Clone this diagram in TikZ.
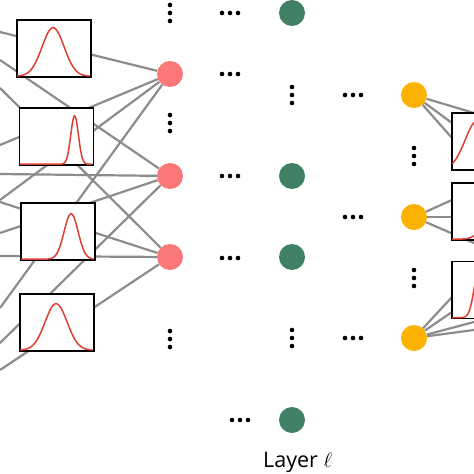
\documentclass[tikz,border=0pt]{standalone}
\usepackage{fontspec}
\setmainfont{Open Sans}
\definecolor{unitpink}{RGB}{250,120,120}
\definecolor{unitgreen}{RGB}{64,128,100}
\definecolor{unitorange}{RGB}{252,178,0}
\definecolor{edgegray}{RGB}{140,140,140}
\definecolor{curvered}{RGB}{222,62,52}
\begin{document}
\begin{tikzpicture}[x=1pt, y=-1pt]
\tikzstyle{unit}  = [circle, minimum size=26pt, inner sep=0pt, draw=none]
\tikzstyle{edge}  = [draw=edgegray, line width=2.2pt]
\tikzstyle{fbox}  = [rectangle, draw=black, fill=white, line width=1.8pt, minimum width=74pt, minimum height=57pt, inner sep=0pt]
\tikzstyle{curve} = [draw=curvered, line width=1.5pt, smooth]
\clip (0,0) rectangle (474,474);
% hidden units
\node[unit, fill=unitpink] at (170, 74) (h_0) {};
\node[unit, fill=unitpink] at (170, 176) (h_1) {};
\node[unit, fill=unitpink] at (170, 257) (h_2) {};
\node[unit, fill=unitgreen] at (292, 13) (g_0) {};
\node[unit, fill=unitgreen] at (292, 176) (g_1) {};
\node[unit, fill=unitgreen] at (292, 257) (g_2) {};
\node[unit, fill=unitgreen] at (292, 420) (g_3) {};
\node[unit, fill=unitorange] at (414, 95) (o_0) {};
\node[unit, fill=unitorange] at (414, 217) (o_1) {};
\node[unit, fill=unitorange] at (414, 338) (o_2) {};
% loose ends of the edges
\coordinate (in_0) at (0, 32);
\coordinate (in_1) at (0, 145);
\coordinate (in_2) at (0, 200);
\coordinate (in_3) at (0, 308);
\coordinate (in_4) at (0, 60);
\coordinate (in_5) at (0, 174);
\coordinate (in_6) at (0, 233);
\coordinate (in_7) at (0, 343);
\coordinate (in_8) at (0, 88);
\coordinate (in_9) at (0, 202);
\coordinate (in_10) at (0, 256);
\coordinate (in_11) at (0, 370);
\coordinate (out_0) at (474, 113);
\coordinate (out_1) at (452, 123);
\coordinate (out_2) at (452, 138);
\coordinate (out_3) at (452, 200);
\coordinate (out_4) at (452, 217);
\coordinate (out_5) at (474, 243);
\coordinate (out_6) at (452, 297);
\coordinate (out_7) at (452, 312);
\coordinate (out_8) at (474, 322);
\coordinate (out_9) at (474, 330);
\foreach \i in {0,1,2,3} \draw[edge] (in_\i) -- (h_0);
\foreach \i in {4,5,6,7} \draw[edge] (in_\i) -- (h_1);
\foreach \i in {8,9,10,11} \draw[edge] (in_\i) -- (h_2);
\foreach \i in {0,1,2} \draw[edge] (o_0) -- (out_\i);
\foreach \i in {3,4,5} \draw[edge] (o_1) -- (out_\i);
\foreach \i in {6,7,8,9} \draw[edge] (o_2) -- (out_\i);
% function boxes with their curves
\foreach \n/\cx/\cy/\mu/\s/\a in {f_0/54/48.5/37/11/48.5, f_1/56.5/136.5/56/3.8/48.5, f_2/58/231.5/51/7/45.5, f_3/57/322.5/37/11/46.5, r_0/489/141.5/26/12/48, r_1/489/211.5/48/11/48, r_2/489/290/28/5/48}{
  \node[fbox] at (\cx, \cy) (\n) {};
  \draw[curve, shift={(\n.south west)}] plot[domain=0.9:73.1, samples=80] (\x, {-1.7-\a*exp(-((\x-\mu)^2)/(2*\s*\s))});
}
% dots
\foreach \cx/\cy in {170/13, 170/123, 170/339, 292/95, 292/338, 414/156, 414/278}
  \foreach \d in {-8,0,8} \fill (\cx, \cy+\d) circle (2.3pt);
\foreach \cx/\cy in {230/13, 230/74, 230/176, 230/258, 240/420, 353/95, 353/217, 353/338}
  \foreach \d in {-8,0,8} \fill (\cx+\d, \cy) circle (2.3pt);
\node[anchor=base west, inner sep=0pt, font=\fontsize{21.5}{26}\selectfont] at (263, 467) (layer) {Layer $\ell$};
\end{tikzpicture}
\end{document}
